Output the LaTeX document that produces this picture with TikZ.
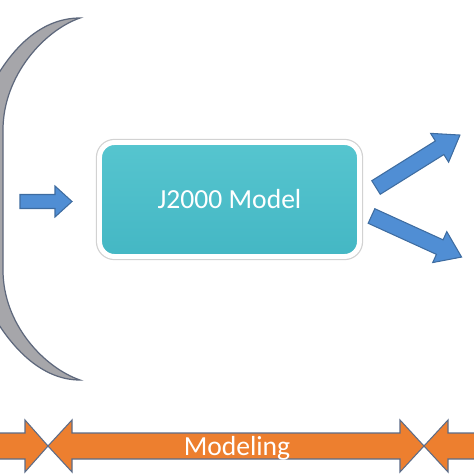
\documentclass[tikz,border=0pt]{standalone}
\usepackage{fontspec}
\usepackage{xcolor}
\usepackage{tikz}
\newfontfamily\calibri{Carlito}

\definecolor{modeltop}{RGB}{86,197,207}
\definecolor{modelbot}{RGB}{68,183,196}
\definecolor{arrowblue}{RGB}{80,142,212}
\definecolor{arrowedge}{RGB}{62,108,160}
\definecolor{bandorange}{RGB}{237,127,47}
\definecolor{bandedge}{RGB}{92,108,136}
\definecolor{bracegray}{RGB}{166,166,170}
\definecolor{braceedge}{RGB}{94,104,124}

\tikzset{
  modelbox/.style={rounded corners=0.3cm, draw=white, line width=2.8pt,
    top color=modeltop, bottom color=modelbot,
    preaction={draw=gray!35, line width=4.2pt},
    minimum width=5.2cm, minimum height=2.28cm,
    text=white, font=\calibri\fontsize{15.7}{18}\selectfont},
  bluearr/.style={fill=arrowblue, draw=arrowedge, line width=0.6pt},
  bandarr/.style={fill=bandorange, draw=bandedge, line width=0.6pt},
  bandtext/.style={text=white, inner sep=0pt, font=\calibri\fontsize{15.7}{18}\selectfont},
}

\newcommand{\bluearrow}[3]{%
  \begin{scope}[shift={#1}, rotate=#2]
    \draw[bluearr] (0,-8) -- (#3-24,-8) -- (#3-24,-17) -- (#3,0) -- (#3-24,17) -- (#3-24,8) -- (0,8) -- cycle;
  \end{scope}}

\begin{document}
\begin{tikzpicture}[x=0.02cm, y=-0.02cm]
  \useasboundingbox (0,0) rectangle (474,474);
  \clip (0,0) rectangle (474,474);

  % brace
  \draw[fill=bracegray, draw=braceedge, line width=0.7pt]
    (80,18) .. controls (40,18) and (5,50) .. (-20,110)
    .. controls (-35,150) and (-35,250) .. (-20,290)
    .. controls (5,345) and (40,380) .. (80,380)
    .. controls (45,368) and (3,325) .. (3,270)
    -- (3,130)
    .. controls (3,75) and (45,30) .. (80,18) -- cycle;

  \draw[bluearr] (20,194.5) -- (55,194.5) -- (55,186) -- (72,201.5) -- (55,217) -- (55,208.5) -- (20,208.5) -- cycle;

  \node[modelbox] (model) at (229.5,199.5) {J2000 Model};

  \bluearrow{(376,187.5)}{32}{99}
  \bluearrow{(371.5,216)}{-24.5}{99}

  % timeline
  \draw[bandarr] (-10,433) -- (25,433) -- (25,420) -- (48,446) -- (25,472) -- (25,459) -- (-10,459) -- cycle;
  \draw[bandarr] (48,446) -- (72,420) -- (72,433) -- (400,433) -- (400,420) -- (424,446) -- (400,472) -- (400,459) -- (72,459) -- (72,472) -- cycle;
  \draw[bandarr] (484,433) -- (448,433) -- (448,420) -- (424,446) -- (448,472) -- (448,459) -- (484,459) -- cycle;
  \node[bandtext, anchor=base] (modeling) at (237,455) {Modeling};
\end{tikzpicture}
\end{document}
